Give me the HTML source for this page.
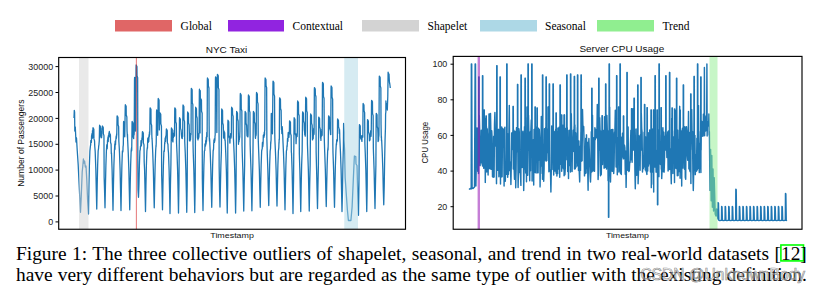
<!DOCTYPE html>
<html><head><meta charset="utf-8">
<style>
html,body{margin:0;padding:0;background:#fff;width:821px;height:292px;overflow:hidden;}
svg{position:absolute;left:0;top:0;}
.cap{position:absolute;left:16px;width:790.8px;font-family:"Liberation Serif",serif;font-size:19.4px;color:#000;white-space:nowrap;text-align:justify;text-align-last:justify;line-height:20px;}
</style></head><body>
<svg width="821" height="292" viewBox="0 0 821 292">

<!-- left chart -->
<g>
<path d="M74 118 L74.3 110.3 L74.6 112 L74.8 131 L75.3 127 L76 142 L76.5 138 L77.2 150 L78.2 165 L79.4 190 L80.5 212.25 L81.3 195 L82.2 172 L82.8 166 L83.4 159 L84 163 L84.6 161 L85.3 167 L86 166 L86.8 180 L87.6 200 L88.5 214 L88.95 185 L89.4 165 L89.9 151 L90.3 147.08 L90.48 145.78 L90.66 144.78 L90.84 140.43 L91.02 142.07 L91.2 142.03 L91.38 142.36 L91.56 135.76 L91.74 136.39 L91.92 133.65 L92.1 138.35 L92.28 136.38 L92.45 134.36 L92.46 130.67 L92.64 137.76 L92.95 128.03 L93.05 127.7 L93.85 129.2 L93.97 138.88 L94.55 140.88 L94.75 146.21 L95.15 150.83 L95.25 153 L95.85 170 L96.3 190 L96.75 209 L97.2 185 L97.65 165 L98.15 151 L98.55 148.44 L98.73 145.66 L98.91 145.31 L99.05 143.32 L99.09 142.85 L99.27 140.83 L99.55 126.11 L99.65 125.2 L100.45 126.7 L100.57 135.78 L101.15 137.78 L101.35 131.52 L101.61 137.38 L101.75 133.1 L101.79 135.7 L101.85 132.65 L101.97 128.12 L102.15 128.99 L102.35 126.33 L102.45 126 L103.25 127.5 L103.37 133.66 L103.95 135.66 L104.15 177.2 L104.55 190 L104.55 190 L105 207.75 L105.45 185 L105.9 165 L106.4 151 L106.8 144.59 L106.98 145.15 L107.16 148.8 L107.34 146.12 L107.52 140.08 L107.7 140.18 L107.88 138.1 L108.06 136.78 L108.24 141.58 L108.42 135.52 L108.6 137.47 L108.78 135.48 L108.96 132.9 L109.01 135.25 L109.14 136.78 L109.32 131.52 L109.51 133.41 L109.61 133.31 L110.41 134.81 L110.53 142.21 L111.11 144.21 L111.31 153.82 L111.5 153 L111.71 158.95 L112.1 170 L112.55 190 L113 210.25 L113.45 185 L113.9 165 L114.4 151 L114.8 143.99 L114.98 149.38 L115.16 141.45 L115.34 141.04 L115.52 144.65 L115.7 140.6 L115.88 139.83 L116.06 137.21 L116.24 135.82 L116.42 138.24 L116.55 136.48 L116.6 134 L116.78 135.34 L117.05 116.93 L117.15 115.9 L117.95 117.4 L118.07 124.61 L118.65 126.61 L118.85 141.25 L119.25 147.58 L119.5 153 L120.1 170 L120.55 190 L121 210.5 L121.45 185 L121.9 165 L122.4 151 L122.8 151.82 L122.98 150.02 L123.05 146.48 L123.16 146.54 L123.34 144.14 L123.55 122.75 L123.65 121.5 L124.45 123 L124.57 130.09 L124.75 136.76 L125.25 106.3 L125.35 104.7 L126.15 106.2 L126.27 115.02 L126.85 117.02 L127.05 130.92 L127.3 135.15 L127.45 137.48 L127.48 134.34 L127.65 140 L128.25 153 L128.85 170 L129.3 190 L129.75 209.75 L130.2 185 L130.65 165 L131.15 151 L131.55 147.72 L131.55 150.84 L131.73 150.08 L132.05 122.81 L132.15 121.5 L132.95 123 L133.07 136.61 L133.65 138.61 L133.85 130.17 L134 133.44 L134.07 134.98 L134.25 132.33 L134.25 130.89 L134.5 80.2 L134.6 77.4 L135.4 78.9 L135.52 92.24 L135.55 131.01 L136.05 68.3 L136.15 65 L136.95 66.5 L137.07 75.75 L137.65 77.75 L137.85 167.58 L138.05 190 L138.25 193.22 L138.5 197.25 L138.95 185 L139.4 165 L139.9 151 L140.3 149.37 L140.48 146.25 L140.66 146.67 L140.84 145.82 L141.02 140.56 L141.2 144.01 L141.38 145.81 L141.56 143.89 L141.74 141.68 L141.89 139.02 L141.92 137.96 L142.1 139.73 L142.39 131.98 L142.49 131.61 L143.29 133.11 L143.41 142.94 L143.99 144.94 L144.19 162.09 L144.59 169.72 L144.6 170 L145.05 190 L145.5 211.5 L145.95 185 L146.4 165 L146.9 151 L147.3 147.61 L147.48 148.12 L147.66 140.86 L147.84 138.09 L148.02 139.91 L148.2 142.44 L148.38 138.14 L148.56 137.04 L148.74 141.39 L148.92 137.9 L149.1 134.62 L149.28 136.69 L149.46 131.97 L149.55 133.34 L149.64 134.66 L149.82 130.89 L150.05 109.08 L150.15 107.8 L150.95 109.3 L151.07 123.35 L151.65 125.35 L151.85 135.29 L151.98 138.68 L152.15 140 L152.25 142.17 L152.75 153 L153.35 170 L153.8 190 L154.25 207.75 L154.7 185 L155.15 165 L155.65 151 L156.05 145.03 L156.05 146.83 L156.23 142.67 L156.55 111.84 L156.65 110 L157.45 111.5 L157.57 117.42 L157.65 135.34 L158.15 100.34 L158.25 98.5 L159.05 100 L159.17 111.16 L159.35 129.87 L159.85 113.65 L159.95 112.8 L160.75 114.3 L160.87 123.82 L161.45 125.82 L161.65 174.56 L162.05 190 L162.05 190 L162.5 209.75 L162.95 185 L163.4 165 L163.9 151 L164.3 151.56 L164.48 147.97 L164.66 142.69 L164.84 143.73 L165.02 140.27 L165.2 137.83 L165.38 140.44 L165.56 141.33 L165.74 136.12 L165.85 138.11 L165.92 135.93 L166.1 135.58 L166.35 129.46 L166.45 129 L167.25 130.5 L167.37 142.5 L167.95 144.5 L168.15 149.33 L168.5 153 L168.55 154.42 L169.1 170 L169.55 190 L170 213.5 L170.45 185 L170.85 167.22 L170.9 165 L171.35 129.96 L171.45 128 L172.25 129.5 L172.37 139.95 L172.95 141.95 L173.15 133.31 L173.42 137.38 L173.55 134.64 L173.6 136.81 L173.78 134.06 L173.96 134.37 L174.14 130.17 L174.25 132.36 L174.32 135.49 L174.5 135.97 L174.75 109.03 L174.85 107.8 L175.65 109.3 L175.77 121.71 L176.35 123.71 L176.55 143.09 L176.95 151.92 L177 153 L177.6 170 L178.05 190 L178.5 213 L178.95 185 L178.95 185 L179.45 121.06 L179.55 117.7 L180.35 119.2 L180.47 128.13 L181.05 130.13 L181.25 132.29 L181.38 134.52 L181.56 136.21 L181.65 135.94 L181.74 137.59 L181.92 138.24 L182.1 136.75 L182.28 138.52 L182.45 134.05 L182.46 133.93 L182.64 136.53 L182.95 106.45 L183.05 105 L183.85 106.5 L183.97 119.61 L184.55 121.61 L184.75 141.67 L185.15 150.83 L185.25 153 L185.85 170 L186.3 190 L186.75 212.25 L187.05 194.08 L187.2 185 L187.55 116.1 L187.65 112 L188.45 113.5 L188.57 122.9 L189.15 124.9 L189.35 132.2 L189.45 140.71 L189.63 139.46 L189.75 137.25 L189.81 133.48 L189.99 141.05 L190.17 137.46 L190.35 136.57 L190.53 139.81 L190.71 136.54 L190.75 135.7 L190.89 134.44 L191.07 134.5 L191.25 90.67 L191.35 88.3 L192.15 89.8 L192.27 102.64 L192.85 104.64 L193.05 144.59 L193.25 153 L193.45 158.67 L193.85 170 L194.3 190 L194.75 212.5 L195.05 194.17 L195.2 185 L195.55 111.55 L195.65 107.2 L196.45 108.7 L196.57 116.04 L197.15 118.04 L197.35 132.53 L197.45 137.87 L197.63 137.54 L197.75 138.86 L197.81 136.57 L197.99 139.92 L198.17 136.67 L198.35 136.61 L198.53 138.4 L198.71 133.34 L198.85 135.71 L198.89 137.34 L199.07 131.46 L199.35 91.53 L199.45 89.2 L200.05 132.9 L200.25 90.7 L200.37 101.88 L200.55 100.22 L200.65 98.5 L201.45 100 L201.57 111.25 L202.15 113.25 L202.35 178.99 L202.55 190 L202.75 199.11 L203 210.5 L203.45 185 L203.9 165 L204.4 151 L204.8 150.44 L204.98 143.92 L205.16 146.45 L205.34 146.12 L205.52 146.17 L205.7 140.79 L205.88 140.09 L206.06 144.04 L206.24 137.07 L206.42 141.98 L206.6 139.76 L206.78 132.4 L206.85 135.14 L206.96 132.96 L207.14 136.7 L207.35 80.86 L207.45 78 L208.25 79.5 L208.37 86.04 L208.95 88.04 L209.15 126.42 L209.3 138.14 L209.48 141.25 L209.55 138.53 L209.65 140 L210.25 153 L210.85 170 L211.3 190 L211.75 207.25 L212.2 185 L212.65 165 L213.15 151 L213.55 149 L213.73 143.46 L213.91 140.95 L214.09 140.27 L214.27 138.94 L214.45 142.27 L214.63 141.19 L214.81 140.69 L214.95 139.17 L214.99 136.07 L215.17 135.13 L215.45 79.92 L215.55 76.8 L216.35 78.3 L216.47 83.92 L216.85 132.51 L217.05 85.92 L217.35 77.21 L217.45 74.3 L218.25 75.8 L218.37 87.61 L218.95 89.61 L219.15 166.86 L219.55 190 L219.55 190 L220 207 L220.45 185 L220.9 165 L221.15 158 L221.4 151 L221.65 111.45 L221.75 109 L222.55 110.5 L222.67 123 L223.25 125 L223.45 130.76 L223.6 138.11 L223.78 136.3 L223.85 136.2 L223.96 135.11 L224.14 131.24 L224.32 134.94 L224.5 135.07 L224.68 132.63 L224.86 139.94 L225.04 140.68 L225.15 140 L225.75 153 L226.35 170 L226.8 190 L227.25 213 L227.35 206.78 L227.7 185 L227.85 124.53 L227.95 120.2 L228.75 121.7 L228.87 136.02 L229.45 138.02 L229.65 136.28 L229.77 142.15 L229.95 143.01 L230.05 140.3 L230.13 136.12 L230.31 137.05 L230.49 137.72 L230.67 133.71 L230.85 136.12 L231.03 138.04 L231.05 136.89 L231.21 137.04 L231.39 132.97 L231.55 108.68 L231.65 107.2 L232.45 108.7 L232.57 114.41 L233.15 116.41 L233.35 137.77 L233.5 140 L233.75 145.42 L234.1 153 L234.7 170 L235.15 190 L235.6 213 L236.05 185 L236.05 185 L236.55 115.17 L236.65 111.5 L237.45 113 L237.57 119.03 L238.15 121.03 L238.35 133.94 L238.48 144.32 L238.66 140.48 L238.75 139.54 L238.84 139.07 L239.02 141.68 L239.2 137.42 L239.38 139.77 L239.56 136.41 L239.74 137.34 L239.75 134.84 L239.92 131.03 L240.25 95.57 L240.35 93.5 L241.15 95 L241.27 109.01 L241.85 111.01 L242.05 145.63 L242.25 153 L242.45 158.67 L242.85 170 L243.3 190 L243.75 211 L244.2 185 L244.55 169.44 L244.65 165 L245.05 114.4 L245.15 111.5 L245.95 113 L246.07 123.21 L246.65 125.21 L246.85 131.31 L246.99 135.73 L247.17 133.07 L247.25 136.26 L247.35 132.94 L247.53 136.68 L247.71 133.24 L247.85 133.76 L247.89 136.84 L248.07 135.19 L248.35 96.94 L248.45 95 L249.25 96.5 L249.37 110.44 L249.95 112.44 L250.15 144.8 L250.4 153 L250.55 157.25 L251 170 L251.45 190 L251.9 210.75 L252.35 185 L252.8 165 L252.85 163.6 L253.35 114.1 L253.45 111.5 L254.25 113 L254.37 121.73 L254.95 123.73 L255.15 131.74 L255.32 137.05 L255.5 138.3 L255.55 136.8 L255.68 136.04 L255.86 133.74 L255.95 135.25 L256.04 135.52 L256.22 133.44 L256.45 94.64 L256.55 92.5 L257.35 94 L257.47 101.94 L258.05 103.94 L258.25 139.17 L258.65 150.83 L258.75 153 L259.35 170 L259.8 190 L260.25 207.25 L260.7 185 L261.15 165 L261.65 151 L262.05 149.12 L262.23 148.76 L262.41 142.92 L262.59 142.1 L262.77 146.66 L262.95 144.86 L263.13 143.28 L263.31 135.46 L263.49 134.89 L263.67 135.84 L263.85 136.33 L264.03 137.18 L264.21 132.4 L264.39 135.32 L264.55 134.46 L264.57 130.98 L264.75 130.5 L265.05 80.82 L265.15 78 L265.95 79.5 L266.07 85.67 L266.65 87.67 L266.85 138 L267.25 153 L267.25 153 L267.85 170 L268.3 190 L268.75 205.5 L269.2 185 L269.65 165 L270.15 151 L270.55 148.51 L270.73 141.98 L270.75 144.04 L270.91 141.58 L271.09 139.63 L271.25 114.93 L271.35 113.4 L272.15 114.9 L272.27 122.32 L272.45 133.74 L272.95 83.73 L273.05 81.1 L273.85 82.6 L273.97 94.06 L274.55 96.06 L274.75 132.55 L274.9 140 L275.15 145.42 L275.5 153 L276.1 170 L276.55 190 L277 206 L277.45 185 L277.9 165 L278.4 151 L278.8 147.8 L278.98 142.37 L279.05 143.27 L279.16 139.11 L279.34 139.71 L279.55 100.17 L279.65 97.9 L280.45 99.4 L280.57 108.46 L281.15 110.46 L281.35 123.93 L281.5 129.64 L281.68 129.88 L281.75 130.43 L281.86 133.52 L282.04 132.57 L282.22 126.76 L282.4 129.3 L282.58 132.79 L282.76 136.22 L282.9 140 L283.5 153 L284.1 170 L284.55 190 L285 209.75 L285.45 185 L285.9 165 L286.4 151 L286.8 149.54 L286.98 145.76 L287.16 146.4 L287.34 142.75 L287.52 138.28 L287.7 141.55 L287.88 141.14 L288.06 135.21 L288.24 132.49 L288.42 135.8 L288.6 135.39 L288.78 134.94 L288.96 137.27 L289.05 133.09 L289.14 133.85 L289.32 134.19 L289.55 121.41 L289.65 120.8 L290.45 122.3 L290.57 133.51 L291.15 135.51 L291.35 152.23 L291.5 153 L291.75 160.08 L292.1 170 L292.55 190 L293 213.5 L293.45 185 L293.55 180.56 L294.05 120.84 L294.15 117.7 L294.95 119.2 L295.07 133.32 L295.65 135.32 L295.85 134.02 L296.06 143.65 L296.24 139.57 L296.25 138.1 L296.42 136.43 L296.6 135.06 L296.78 134.82 L296.96 134.67 L297.05 133.08 L297.14 136.48 L297.32 132.61 L297.55 102.6 L297.65 101 L298.45 102.5 L298.57 113.76 L299.15 115.76 L299.35 153.93 L299.75 167.17 L299.85 170 L300.3 190 L300.75 211.5 L301.2 185 L301.65 165 L302.05 153.8 L302.15 151 L302.55 114 L302.65 111.9 L303.45 113.4 L303.57 121.02 L304.15 123.02 L304.35 130.23 L304.53 131.74 L304.71 133.34 L304.75 134.81 L304.89 131.5 L305.07 135.46 L305.15 134.14 L305.25 136.18 L305.43 131.11 L305.65 99.05 L305.75 97.2 L306.55 98.7 L306.67 110.66 L307.25 112.66 L307.45 144.11 L307.75 153 L307.85 155.83 L308.35 170 L308.8 190 L309.25 211 L309.7 185 L310.05 169.44 L310.15 165 L310.55 116.77 L310.65 114 L311.45 115.5 L311.57 123.14 L312.15 125.14 L312.35 131.79 L312.49 139.91 L312.67 139.73 L312.75 136.23 L312.85 134.75 L313.03 135.99 L313.21 138.38 L313.39 133.63 L313.57 130.58 L313.75 128.25 L313.85 131.33 L313.93 134.48 L314.11 132.88 L314.35 89.79 L314.45 87.6 L315.25 89.1 L315.37 94.7 L315.95 96.7 L316.15 152.39 L316.55 168.58 L316.6 170 L317.05 190 L317.5 208.5 L317.95 185 L318.15 176.11 L318.4 165 L318.65 120.05 L318.75 117.1 L319.55 118.6 L319.67 126.83 L320.25 128.83 L320.45 132.82 L320.56 138.1 L320.74 138.31 L320.85 136.74 L320.92 140.39 L321.1 133.82 L321.28 135.2 L321.46 131.59 L321.64 136.04 L321.82 129.38 L321.95 133 L322 135.43 L322.18 135.12 L322.45 84.93 L322.55 82.4 L323.35 83.9 L323.47 96.5 L324.05 98.5 L324.25 137.15 L324.65 150.83 L324.75 153 L325.35 170 L325.8 190 L326.25 206.5 L326.7 185 L327.15 165 L327.65 151 L328.05 147.25 L328.05 149.86 L328.23 143.23 L328.55 117.47 L328.65 115.9 L329.45 117.4 L329.57 127.98 L330.15 129.98 L330.35 130.78 L330.55 134.5 L330.57 131.35 L330.75 134.5 L330.75 133.65 L331.05 88.43 L331.15 86 L331.95 87.5 L332.07 97.12 L332.65 99.12 L332.85 145.27 L333 153 L333.25 160.08 L333.6 170 L334.05 190 L334.5 207.25 L334.95 185 L335.4 165 L335.9 151 L336.3 143.69 L336.48 144.72 L336.66 139.88 L336.84 140.23 L337.02 141.74 L337.05 141.45 L337.2 140 L337.38 140.52 L337.55 120.12 L337.65 119 L338.45 120.5 L338.57 126.85 L339.15 128.85 L339.35 133.41 L339.54 129.58 L339.72 133.55 L339.75 137.02 L339.9 140 L340.5 153 L341.1 170 L341.55 190 L342 211.5 L342.5 190 L342.9 165 L343.4 146 L343.6 123.5 L344 132 L344 140 L344.6 150 L345.2 178 L346.2 193 L347.4 210 L348.4 220.5 L350.9 220.5 L352.1 207 L353.3 180 L354.1 162 L354.4 156 L355.8 156.5 L356 164 L357 165.5 L357.7 192 L358.5 215.25 L358.85 191.72 L358.95 185 L359.35 127.96 L359.45 124.6 L360.25 126.1 L360.37 137.08 L360.95 139.08 L361.15 136.91 L361.38 137.97 L361.55 139.99 L361.56 139.19 L361.74 135.58 L361.92 141.42 L362.1 136.53 L362.28 136.26 L362.46 136.79 L362.55 135.35 L362.64 137.23 L362.82 137.15 L363.05 105.09 L363.15 103.5 L363.95 105 L364.07 110.67 L364.65 112.67 L364.85 143.1 L365.25 153 L365.25 153 L365.85 170 L366.3 190 L366.75 211.5 L366.95 199.72 L367.2 185 L367.45 123.61 L367.55 119.6 L368.35 121.1 L368.47 131.79 L369.05 133.79 L369.25 134.86 L369.45 140.79 L369.63 136.06 L369.65 138.67 L369.81 139.88 L369.99 140.06 L370.17 136.3 L370.35 133.82 L370.53 134.09 L370.71 130.64 L370.89 134.68 L371.05 132.5 L371.07 136.33 L371.25 132.03 L371.55 101.91 L371.65 100.3 L372.45 101.8 L372.57 113.57 L373.15 115.57 L373.35 148.13 L373.5 153 L373.75 160.08 L374.1 170 L374.55 190 L375 208.5 L375.45 185 L375.65 176.11 L375.9 165 L376.15 116.54 L376.25 113.4 L377.05 114.9 L377.17 126.33 L377.75 128.33 L377.95 133.28 L378.06 141.49 L378.24 137.41 L378.35 138.25 L378.42 140.86 L378.6 139.81 L378.75 134.45 L378.78 136.71 L378.96 134.86 L379.25 79.02 L379.35 76.1 L380.15 77.6 L380.27 85.87 L380.85 87.87 L381.05 124.55 L381.3 138.05 L381.45 136.66 L381.48 140.68 L381.65 140 L382.25 153 L382.85 170 L383.3 190 L383.75 204.75 L384.25 185 L384.65 160 L385.05 140 L385.45 128 L385.6 114 L385.85 112 L385.9 101 L386.3 108 L386.8 104 L387.3 110 L387.8 96 L388.1 72.2 L388.5 74 L389 74 L389.4 82 L389.8 84 L390.3 88" fill="none" stroke="#1f77b4" stroke-width="1.3" stroke-linejoin="round"/>
<rect x="79" y="57.5" width="9.5" height="171.5" fill="#d3d3d3" fill-opacity="0.5"/>
<rect x="344.25" y="57.5" width="13.75" height="171.5" fill="#add8e6" fill-opacity="0.5"/>
<rect x="135.85" y="57.5" width="1.15" height="171.75" fill="#d62728" fill-opacity="0.55"/>
<rect x="58.7" y="57.5" width="346.8" height="171.75" fill="none" stroke="#000" stroke-width="1.15"/>
</g>
<g stroke="#000" stroke-width="1">
<line x1="55.5" y1="221.9" x2="58.5" y2="221.9"/>
<line x1="55.5" y1="196" x2="58.5" y2="196"/>
<line x1="55.5" y1="170.1" x2="58.5" y2="170.1"/>
<line x1="55.5" y1="144.3" x2="58.5" y2="144.3"/>
<line x1="55.5" y1="118.4" x2="58.5" y2="118.4"/>
<line x1="55.5" y1="92.5" x2="58.5" y2="92.5"/>
<line x1="55.5" y1="66.6" x2="58.5" y2="66.6"/>
</g>
<g font-family="Liberation Sans, sans-serif" font-size="9.3" fill="#222" text-anchor="end">
<text x="53.1" y="225.0" textLength="4.95" lengthAdjust="spacingAndGlyphs">0</text>
<text x="53.1" y="199.1" textLength="19.80" lengthAdjust="spacingAndGlyphs">5000</text>
<text x="53.1" y="173.2" textLength="24.75" lengthAdjust="spacingAndGlyphs">10000</text>
<text x="53.1" y="147.4" textLength="24.75" lengthAdjust="spacingAndGlyphs">15000</text>
<text x="53.1" y="121.5" textLength="24.75" lengthAdjust="spacingAndGlyphs">20000</text>
<text x="53.1" y="95.6" textLength="24.75" lengthAdjust="spacingAndGlyphs">25000</text>
<text x="53.1" y="69.7" textLength="24.75" lengthAdjust="spacingAndGlyphs">30000</text>
</g>
<g font-family="Liberation Sans, sans-serif" font-size="9.2" fill="#111">
<text x="205.7" y="53" textLength="41.6" lengthAdjust="spacingAndGlyphs">NYC Taxi</text>
<text x="579.4" y="51.7" textLength="84.8" lengthAdjust="spacingAndGlyphs">Server CPU Usage</text>
</g>
<g font-family="Liberation Sans, sans-serif" font-size="8.2" fill="#111">
<text x="210.3" y="238.3" font-size="7.7" textLength="43.6" lengthAdjust="spacingAndGlyphs">Timestamp</text>
<text x="605.9" y="238.3" font-size="7.7" textLength="43" lengthAdjust="spacingAndGlyphs">Timestamp</text>
<text transform="translate(24,186.8) rotate(-90)" textLength="87.2" lengthAdjust="spacingAndGlyphs">Number of Passengers</text>
<text transform="translate(428.4,163.6) rotate(-90)" textLength="41.8" lengthAdjust="spacingAndGlyphs">CPU Usage</text>
</g>
<!-- right chart -->
<g>
<path d="M469 189.5 L470.2 188.5 L471.2 189 L471.35 64 L471.7 64 L472.1 188 L473 188.5 L474.5 187 L475.15 64 L475.5 64 L475.9 186 L476.5 150 L477 128 L477.3 130.24 L477.7 171.24 L478.1 128.04 L478.5 173.46 L478.7 150 L478.75 77 L478.9 128.14 L479.05 77 L479.1 150 L479.3 115.44 L479.7 130.8 L480.1 165.64 L480.5 154.17 L480.9 162.6 L481.3 130.28 L481.7 157.72 L482.1 164.33 L482.45 150 L482.5 165.96 L482.5 75.75 L482.8 75.75 L482.85 150 L482.9 162.55 L483.3 133.78 L483.7 168.26 L483.95 150 L484 110 L484.1 133.89 L484.3 110 L484.35 150 L484.5 168.08 L484.9 118.12 L485.3 182.4 L485.7 128.37 L485.95 150 L486 116 L486.1 172.02 L486.3 116 L486.35 150 L486.5 126.8 L486.9 171.89 L487.3 129.09 L487.7 147 L488.1 174.93 L488.5 151.48 L488.9 132.81 L488.95 150 L489 114 L489.3 168.58 L489.3 114 L489.35 150 L489.7 135.17 L490.1 168.79 L490.5 113.41 L490.9 133.42 L491.3 169.38 L491.7 130.78 L492.1 137.72 L492.5 176.77 L492.9 163.93 L493.3 177.18 L493.7 136.14 L494.1 177.03 L494.5 124.63 L494.9 112.56 L495.3 130.13 L495.7 146.11 L496.1 136.79 L496.5 183.65 L496.7 150 L496.75 65.75 L496.9 164.35 L497.05 65.75 L497.1 150 L497.3 134.08 L497.7 170.36 L498.1 135.31 L498.5 129.35 L498.9 176.68 L499.3 162.02 L499.7 163.44 L499.95 150 L500 77 L500.1 129.65 L500.3 77 L500.35 150 L500.5 183.94 L500.9 129.33 L501.3 177.02 L501.7 127.09 L502.1 176.73 L502.5 128.46 L502.9 138.67 L503.3 129.22 L503.7 132.16 L504.1 185.95 L504.5 129.24 L504.9 127.26 L505.3 181.18 L505.7 167.61 L506.1 168.39 L506.5 174.22 L506.7 150 L506.75 64 L506.9 171.8 L507.05 64 L507.1 150 L507.3 133.61 L507.7 177.26 L508.1 134.17 L508.5 174.27 L508.9 134.34 L509.3 105.36 L509.7 170.59 L510.1 165.94 L510.5 162.55 L510.9 184.45 L511.3 164.11 L511.7 132.99 L512.1 132.86 L512.5 144.87 L512.9 130.21 L512.95 150 L513 106.4 L513.3 169.01 L513.3 106.4 L513.35 150 L513.7 129.9 L514.1 168.73 L514.5 179.33 L514.9 131.29 L515.3 131.59 L515.7 187.73 L516.1 169.17 L516.5 127.65 L516.9 148.52 L517.3 151.82 L517.45 150 L517.5 84.5 L517.7 139.88 L517.8 84.5 L517.85 150 L518.1 187.43 L518.5 169.47 L518.9 128.84 L519.3 132.04 L519.7 172.45 L520.1 171.07 L520.5 175.2 L520.9 185.38 L520.95 150 L521 75 L521.3 166.26 L521.3 75 L521.35 150 L521.7 149.04 L522.1 167.43 L522.5 133.28 L522.9 131.31 L523.3 138.89 L523.7 190.48 L524.1 169.39 L524.5 126.76 L524.9 168.9 L524.95 150 L525 78.25 L525.3 156.48 L525.3 78.25 L525.35 150 L525.7 172.97 L526.1 139.85 L526.5 181.75 L526.9 117.46 L526.95 150 L527 107 L527.3 127.99 L527.3 107 L527.35 150 L527.7 175.26 L527.95 150 L528 64 L528.1 138.49 L528.3 64 L528.35 150 L528.5 115.26 L528.9 135.68 L529.3 132.35 L529.7 180.74 L530.1 132.06 L530.5 170.81 L530.9 130.51 L531.3 119.86 L531.7 147.8 L531.7 150 L531.75 64 L532.05 64 L532.1 180.93 L532.1 150 L532.5 164.26 L532.9 165.64 L533.3 139.61 L533.7 184.92 L534.1 129.37 L534.5 172.02 L534.9 129.34 L534.95 150 L535 107 L535.3 172.81 L535.3 107 L535.35 150 L535.7 126.93 L536.1 143.75 L536.5 140.97 L536.9 173.05 L536.95 150 L537 108 L537.3 140.38 L537.3 108 L537.35 150 L537.7 138.58 L538.1 172.74 L538.5 128.15 L538.9 159.93 L539.3 129.57 L539.7 137.78 L540.1 186.88 L540.5 137.54 L540.9 165.96 L541.3 116.56 L541.7 141.77 L542.1 173.48 L542.45 150 L542.5 179.31 L542.5 75 L542.8 75 L542.85 150 L542.9 164.98 L543.3 144.13 L543.7 181.25 L544.1 168.81 L544.5 128.69 L544.9 160.11 L545.3 157.17 L545.7 127.41 L545.95 150 L546 77 L546.1 161.13 L546.3 77 L546.35 150 L546.5 129.16 L546.9 160.48 L547.3 129 L547.7 140.53 L547.95 150 L548 107 L548.1 152.57 L548.3 107 L548.35 150 L548.5 143.54 L548.9 171.81 L549.2 150 L549.25 84 L549.3 165.46 L549.55 84 L549.6 150 L549.7 169.2 L550.1 170.22 L550.5 172 L550.9 192.05 L551.3 169.85 L551.7 126.03 L552.1 143.22 L552.5 136.48 L552.9 169.5 L552.95 150 L553 84 L553.3 131.33 L553.3 84 L553.35 150 L553.7 174.99 L554.1 131.49 L554.5 146.31 L554.9 171.1 L555.3 135.15 L555.7 129.22 L555.95 150 L556 113 L556.1 173.35 L556.3 113 L556.35 150 L556.5 127.77 L556.9 176.04 L557.3 132.12 L557.7 173.62 L558.1 127.89 L558.5 154.29 L558.9 169.14 L559.3 127.07 L559.7 177.3 L559.95 150 L560 85 L560.1 128.61 L560.3 85 L560.35 150 L560.5 131.53 L560.9 164.27 L561.3 128.88 L561.45 150 L561.5 115 L561.7 171.34 L561.8 115 L561.85 150 L562.1 136.45 L562.5 167.29 L562.9 125.32 L563.3 168.83 L563.7 128.09 L563.95 150 L564 115 L564.1 175.66 L564.3 115 L564.35 150 L564.5 114.99 L564.9 174.78 L565.3 167.71 L565.7 128.41 L566.1 148.26 L566.5 129.79 L566.7 150 L566.75 75 L566.9 159.76 L567.05 75 L567.1 150 L567.3 127.74 L567.7 171.46 L568.1 130.38 L568.5 178.45 L568.9 144.34 L569.3 165.61 L569.7 130.2 L570.1 139.37 L570.45 150 L570.5 172.02 L570.5 74 L570.8 74 L570.85 150 L570.9 137.7 L571.3 113.63 L571.7 138.17 L572.1 171.58 L572.5 139.79 L572.9 146.25 L573.3 130.2 L573.7 151.43 L574.1 126.53 L574.2 150 L574.25 76.5 L574.5 169.09 L574.55 76.5 L574.6 150 L574.9 124.98 L575.3 168.8 L575.7 132.88 L576.1 167.08 L576.5 140.52 L576.9 162.77 L577.3 127.55 L577.45 150 L577.5 75 L577.7 166.1 L577.8 75 L577.85 150 L578.1 140.7 L578.5 170.4 L578.9 140.97 L579.3 173.21 L579.7 181.9 L580.1 146.29 L580.5 170.37 L580.9 131.65 L580.95 150 L581 75 L581.3 161.31 L581.3 75 L581.35 150 L581.7 129.68 L582.1 160.68 L582.5 109.59 L582.9 125.95 L583.3 127.37 L583.7 126.63 L584.1 143.14 L584.5 175.87 L584.9 168.54 L585.3 173.43 L585.7 138.54 L586.1 172.91 L586.5 134.85 L586.9 168.65 L587.3 142.15 L587.7 168.55 L588.1 190.32 L588.5 147.43 L588.9 138.53 L589.3 150.27 L589.7 164.31 L590.1 174.77 L590.5 182.03 L590.9 170.83 L591.3 131.73 L591.7 172.02 L591.7 150 L591.75 88.25 L592.05 88.25 L592.1 133.49 L592.1 150 L592.5 115.3 L592.9 171.09 L593.3 147.69 L593.7 170.52 L594.1 137.45 L594.5 171.38 L594.9 127.81 L595.3 139.64 L595.7 129.56 L596.1 132.47 L596.5 137.86 L596.9 134.47 L597.3 104.5 L597.7 134.94 L598.1 179.55 L598.5 170.07 L598.7 150 L598.75 78.25 L598.9 127.05 L599.05 78.25 L599.1 150 L599.3 136.79 L599.7 117.69 L600.1 131.55 L600.5 175.68 L600.9 131.23 L601.3 174.63 L601.7 136.26 L601.95 150 L602 115.7 L602.1 162.91 L602.3 115.7 L602.35 150 L602.5 164.44 L602.9 136.92 L603.3 130.36 L603.7 131.27 L604.1 168.2 L604.5 116.79 L604.9 167.46 L605.3 132.42 L605.55 150 L605.6 84 L605.7 167.39 L605.9 84 L605.95 150 L606.1 132.6 L606.5 168.91 L606.9 115.48 L607.3 131.11 L607.7 130.68 L608.1 180.66 L608.45 150 L608.5 166.26 L608.5 217.25 L608.8 217.25 L608.85 150 L608.9 167.96 L609.05 150 L609.1 64 L609.3 166.22 L609.4 64 L609.45 150 L609.7 107.2 L610.1 169.12 L610.5 182.02 L610.9 164.34 L611.3 129.85 L611.7 171.09 L612.1 129.4 L612.5 171.35 L612.9 129.48 L613.3 143.02 L613.7 173.51 L614.1 165.71 L614.5 132.7 L614.9 131.5 L615.3 110.25 L615.7 129.17 L616.1 167.02 L616.5 129.78 L616.55 150 L616.6 75.75 L616.9 140.48 L616.9 75.75 L616.95 150 L617.3 174.69 L617.7 138.08 L618.1 160.97 L618.5 143.15 L618.55 150 L618.6 107 L618.9 172.04 L618.9 107 L618.95 150 L619.3 158.71 L619.7 170.61 L619.95 150 L620 64 L620.1 135.42 L620.3 64 L620.35 150 L620.5 173.33 L620.9 137.8 L621.3 174.51 L621.7 137.18 L622.1 156.91 L622.5 133.23 L622.9 142.05 L623.3 158.88 L623.35 150 L623.4 116 L623.7 141.89 L623.7 116 L623.75 150 L624.1 158.53 L624.5 145.27 L624.9 147.95 L625.3 174.23 L625.7 151.19 L626.1 187.37 L626.5 165.41 L626.85 150 L626.9 160.09 L626.9 72.5 L627.2 72.5 L627.25 150 L627.3 127.72 L627.7 170.25 L628.1 126.92 L628.5 168.91 L628.9 171.57 L629.3 170.7 L629.7 162 L630.1 162.46 L630.5 143.82 L630.9 130.23 L631.3 159.77 L631.45 150 L631.5 108.8 L631.7 129.53 L631.8 108.8 L631.85 150 L632.1 162.19 L632.5 129.66 L632.9 130.06 L632.95 150 L633 108.8 L633.3 115.44 L633.3 108.8 L633.35 150 L633.7 129.57 L633.95 150 L634 98.25 L634.1 138.64 L634.3 98.25 L634.35 150 L634.5 128.89 L634.9 170.31 L635.3 188.7 L635.7 163.43 L636.1 128.94 L636.5 175.21 L636.9 143.6 L637.3 174.95 L637.65 150 L637.7 128.8 L637.7 85 L638 85 L638.05 150 L638.1 183.83 L638.5 171.62 L638.9 135.93 L639.3 137.72 L639.7 136.1 L640.1 170.23 L640.5 134.48 L640.85 150 L640.9 125.81 L640.9 77.5 L641.2 77.5 L641.25 150 L641.3 113.21 L641.7 128.47 L642.1 132.64 L642.5 171.99 L642.9 161.65 L643.3 168.63 L643.7 162.89 L644.1 132.19 L644.45 150 L644.5 166.71 L644.5 104.5 L644.8 104.5 L644.85 150 L644.9 154.04 L645.3 170.03 L645.7 136.92 L646.1 170.93 L646.5 172.13 L646.9 174.4 L646.95 150 L647 107.6 L647.3 111.17 L647.3 107.6 L647.35 150 L647.7 170.94 L648.1 132.7 L648.5 166.02 L648.9 133.27 L649.3 163.73 L649.7 129.93 L650.1 138.38 L650.5 172.06 L650.9 138.87 L650.95 150 L651 110 L651.3 187.64 L651.3 110 L651.35 150 L651.7 184.27 L652.1 128.9 L652.5 171.21 L652.9 131.04 L653.3 172.4 L653.45 150 L653.5 110 L653.7 192.09 L653.8 110 L653.85 150 L654.1 131.44 L654.5 167.08 L654.9 131.56 L654.95 150 L655 75.75 L655.3 166.95 L655.3 75.75 L655.35 150 L655.7 150.46 L656.1 172.13 L656.5 157.59 L656.9 172.2 L656.95 150 L657 110 L657.3 129.79 L657.3 110 L657.35 150 L657.45 150 L657.5 204.75 L657.7 170.83 L657.8 204.75 L657.85 150 L658.1 130.23 L658.5 139.41 L658.9 176.64 L658.95 150 L659 64 L659.3 156.13 L659.3 64 L659.35 150 L659.7 163.74 L660.1 142.39 L660.5 164.48 L660.9 134.88 L660.95 150 L661 107.6 L661.3 169.23 L661.3 107.6 L661.35 150 L661.7 178.6 L662.1 169.64 L662.5 136.95 L662.9 127.83 L663.3 171.62 L663.7 132.12 L664.1 172.13 L664.5 160.28 L664.9 136.22 L665.3 140.89 L665.7 129.24 L665.7 150 L665.75 75.75 L666.05 75.75 L666.1 115.49 L666.1 150 L666.5 139.63 L666.9 157.47 L667.3 140.17 L667.7 132.07 L668.1 171.09 L668.5 130.86 L668.9 169.62 L669.3 143.05 L669.45 150 L669.5 72.5 L669.7 128.26 L669.8 72.5 L669.85 150 L670.1 169.36 L670.5 148.77 L670.9 170.49 L671.3 183.81 L671.7 118.47 L671.95 150 L672 108 L672.1 128.5 L672.3 108 L672.35 150 L672.5 130.76 L672.9 173.57 L673.3 136.91 L673.7 145.17 L674.1 140.49 L674.45 150 L674.5 182.51 L674.5 109 L674.8 109 L674.85 150 L674.9 141.75 L675.3 167.89 L675.7 110.71 L676.1 168.54 L676.45 150 L676.5 130.49 L676.5 78.25 L676.8 78.25 L676.85 150 L676.9 132.28 L677.3 175.72 L677.7 130.14 L678.1 175.6 L678.5 139.8 L678.9 171.65 L679.3 140.54 L679.7 106.35 L679.95 150 L680 110 L680.1 178.34 L680.3 110 L680.35 150 L680.5 130.42 L680.9 171.9 L681.3 131.48 L681.7 186.05 L682.1 131.15 L682.5 128.24 L682.9 168.12 L683.2 150 L683.25 85 L683.3 129.61 L683.55 85 L683.6 150 L683.7 155.58 L684.1 127.28 L684.5 169.33 L684.9 126.78 L685.3 177.24 L685.7 179.21 L686.1 129.02 L686.5 126.79 L686.9 131.73 L687.3 155.47 L687.7 160.3 L688.1 147.86 L688.5 111.54 L688.9 168.89 L689.3 132.21 L689.7 170.06 L690.1 171.47 L690.5 157.68 L690.65 150 L690.7 94 L690.9 183.43 L691 94 L691.05 150 L691.3 134.14 L691.7 109.41 L692.1 135.72 L692.5 131.57 L692.9 173.04 L693.3 190.58 L693.7 172.5 L693.95 150 L694 76.5 L694.1 138.92 L694.3 76.5 L694.35 150 L694.5 170.48 L694.9 135.37 L695.3 174.62 L695.7 165.82 L696.1 154.56 L696.5 171.15 L696.9 138.33 L697.3 169.9 L697.45 150 L697.5 64 L697.7 138.93 L697.8 64 L697.85 150 L698.1 168.17 L698.5 105.41 L698.9 161.45 L699.3 172.61 L699.7 143.34 L700.1 168.88 L700.5 131.46 L700.7 150 L700.75 77 L700.9 172.54 L701.05 77 L701.1 150 L701.3 129.56 L701.7 127.67 L701.9 121.47 L702.15 133.64 L702.4 123.54 L702.65 136.25 L702.9 122.88 L703.15 135.99 L703.4 114.35 L703.65 130.05 L703.9 125.32 L704.15 132.44 L704.4 67.5 L704.65 135.71 L704.9 115.36 L705.15 130.1 L705.4 116.96 L705.65 131.07 L705.9 120.89 L706.15 124.17 L706.4 116.6 L706.65 127.63 L706.9 64 L707.15 135.91 L707.4 123.19 L707.65 126.07 L707.9 123.57 L708.15 125.8 L708.4 121.41 L708.65 125.65 L708.9 114.02 L709.15 135.33 L709.4 131.68 L710 190.39 L710.6 149.4 L711.2 200.76 L711.8 155.39 L712.4 207.15 L713 168.93 L713.6 210.94 L714.2 177.79 L715.2 214 L716 216 L716.6 209 L717.2 214 L717.9 219 L718.1 202.6 L718.45 203.1 L718.85 220.3 L719.7 220.6 L721.5 220.3 L721.65 206.5 L722 207 L722.4 220.3 L723.25 220.6 L725.04 220.3 L725.19 206.5 L725.54 207 L725.94 220.3 L726.79 220.6 L728.59 220.3 L728.74 206.5 L729.09 207 L729.49 220.3 L730.34 220.6 L732.14 220.3 L732.29 206.5 L732.64 207 L733.04 220.3 L733.89 220.6 L735.69 220.3 L735.84 189.2 L736.19 189.7 L736.59 220.3 L737.44 220.6 L739.23 220.3 L739.38 206.5 L739.73 207 L740.13 220.3 L740.98 220.6 L742.78 220.3 L742.93 206.5 L743.28 207 L743.68 220.3 L744.53 220.6 L746.33 220.3 L746.48 206.5 L746.83 207 L747.23 220.3 L748.08 220.6 L749.87 220.3 L750.02 206.5 L750.37 207 L750.77 220.3 L751.62 220.6 L753.42 220.3 L753.57 206.5 L753.92 207 L754.32 220.3 L755.17 220.6 L756.97 220.3 L757.12 206.5 L757.47 207 L757.87 220.3 L758.72 220.6 L760.51 220.3 L760.66 206.5 L761.01 207 L761.41 220.3 L762.26 220.6 L764.06 220.3 L764.21 206.5 L764.56 207 L764.96 220.3 L765.81 220.6 L767.61 220.3 L767.76 206.5 L768.11 207 L768.51 220.3 L769.36 220.6 L771.16 220.3 L771.31 206.5 L771.66 207 L772.06 220.3 L772.91 220.6 L774.7 220.3 L774.85 206.5 L775.2 207 L775.6 220.3 L776.45 220.6 L778.25 220.3 L778.4 206.5 L778.75 207 L779.15 220.3 L780 220.6 L781.8 220.3 L781.95 206.5 L782.3 207 L782.7 220.3 L783.55 220.6 L785.34 220.3 L785.49 193.4 L785.84 193.9 L786.24 220.3 L787.09 220.6" fill="none" stroke="#1f77b4" stroke-width="1.45" stroke-linejoin="round"/>
<rect x="709.5" y="56.4" width="8" height="172.85" fill="#90ee90" fill-opacity="0.5"/>
<rect x="477.6" y="56.4" width="2.4" height="172.85" fill="#9614b4" fill-opacity="0.55"/>
<rect x="453.2" y="56.4" width="348.8" height="172.85" fill="none" stroke="#000" stroke-width="1.15"/>
</g>
<g stroke="#000" stroke-width="1">
<line x1="450.5" y1="206.7" x2="453.5" y2="206.7"/>
<line x1="450.5" y1="171.1" x2="453.5" y2="171.1"/>
<line x1="450.5" y1="135.4" x2="453.5" y2="135.4"/>
<line x1="450.5" y1="99.8" x2="453.5" y2="99.8"/>
<line x1="450.5" y1="64.2" x2="453.5" y2="64.2"/>
</g>
<g font-family="Liberation Sans, sans-serif" font-size="8.7" fill="#222" text-anchor="end">
<text x="447.3" y="209.8" textLength="9.90" lengthAdjust="spacingAndGlyphs">20</text>
<text x="447.3" y="174.2" textLength="9.90" lengthAdjust="spacingAndGlyphs">40</text>
<text x="447.3" y="138.5" textLength="9.90" lengthAdjust="spacingAndGlyphs">60</text>
<text x="447.3" y="102.9" textLength="9.90" lengthAdjust="spacingAndGlyphs">80</text>
<text x="447.3" y="67.3" textLength="14.85" lengthAdjust="spacingAndGlyphs">100</text>
</g>
<rect x="780.9" y="245" width="22.6" height="15.9" fill="none" stroke="#00ff00" stroke-width="1.6"/>
</svg>
<svg class="nwc" width="821" height="292" viewBox="0 0 821 292">
<g font-family="Liberation Serif, serif" font-size="11.5" fill="#000">
<rect x="115" y="20" width="57" height="11.5" fill="#e06666"/>
<text x="180.6" y="29.8">Global</text>
<rect x="228" y="20" width="56" height="11.5" fill="#9124e0"/>
<text x="292.5" y="29.8">Contextual</text>
<rect x="362" y="20" width="57" height="11.5" fill="#d3d3d3"/>
<text x="427.6" y="29.8">Shapelet</text>
<rect x="480" y="20" width="57" height="11.5" fill="#add8e6"/>
<text x="545" y="29.8">Seasonal</text>
<rect x="597" y="20" width="57" height="11.5" fill="#90ee90"/>
<text x="662.5" y="29.8">Trend</text>
</g>
</svg>
<div class="cap" style="top:244.3px">Figure 1: The three collective outliers of shapelet, seasonal, and trend in two real-world datasets [12]</div>
<div class="cap" style="top:264.9px">have very different behaviors but are regarded as the same type of outlier with the existing definition.</div>
<svg width="821" height="292" viewBox="0 0 821 292" style="position:absolute;left:0;top:0"><text x="640.4" y="279.9" font-family="Liberation Sans, sans-serif" font-size="16.5" textLength="164.6" lengthAdjust="spacingAndGlyphs" fill="rgba(255,255,255,0.3)" stroke="rgba(135,135,135,0.95)" stroke-width="0.7">CSDN @UnknownBody</text></svg>
</body></html>
